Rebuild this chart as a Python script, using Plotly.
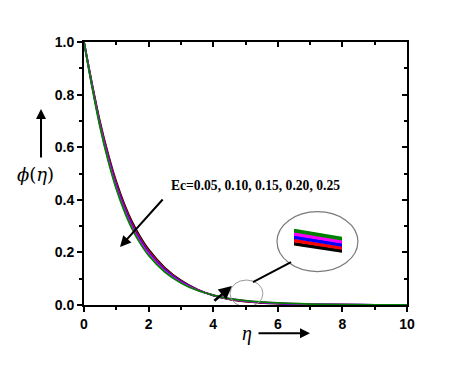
import plotly.graph_objects as go

# ---- data ----
eta = [0, 0.25, 0.5, 0.75, 1.0, 1.25, 1.5, 1.75, 2.0, 2.5, 3.0, 3.5, 4.0, 4.5, 5.0, 6.0, 7.0, 8.0, 9.0, 10.0]
ec_labels = ["0.05", "0.10", "0.15", "0.20", "0.25"]
phi_ec005 = [1.0, 0.841, 0.695, 0.573, 0.469, 0.384, 0.3136, 0.2576, 0.2114, 0.1424, 0.094, 0.060, 0.0364, 0.0214, 0.0132, 0.0051, 0.0021, 0.0009, 0.0004, 0.0002]
phi_ec010 = [1.0, 0.838, 0.690, 0.5665, 0.462, 0.377, 0.3068, 0.2513, 0.2057, 0.1382, 0.0915, 0.059, 0.0367, 0.0222, 0.0141, 0.0058, 0.0025, 0.0011, 0.0005, 0.0002]
phi_ec015 = [1.0, 0.835, 0.685, 0.560, 0.455, 0.370, 0.300, 0.245, 0.200, 0.134, 0.089, 0.058, 0.037, 0.023, 0.015, 0.0065, 0.0029, 0.0013, 0.0006, 0.0002]
phi_ec020 = [1.0, 0.832, 0.680, 0.5535, 0.448, 0.363, 0.2932, 0.2387, 0.1943, 0.1298, 0.0865, 0.057, 0.0373, 0.0238, 0.0159, 0.0072, 0.0033, 0.0015, 0.0007, 0.0002]
phi_ec025 = [1.0, 0.829, 0.675, 0.547, 0.441, 0.356, 0.2864, 0.2324, 0.1886, 0.1256, 0.084, 0.056, 0.0376, 0.0246, 0.0168, 0.0079, 0.0037, 0.0017, 0.0008, 0.0002]
series = [phi_ec005, phi_ec010, phi_ec015, phi_ec020, phi_ec025]
colors = ["#000000", "#FF0000", "#0000FF", "#FF00FF", "#008000"]

x_ticks = [0, 2, 4, 6, 8, 10]
y_ticks = [0.0, 0.2, 0.4, 0.6, 0.8, 1.0]

# inset (magnified view of the tail)
inset_xrange = [5.0, 5.25]
inset_yrange = [0.008715, 0.019165]

fig = go.Figure()

for ys, c, lab in zip(series, colors, ec_labels):
    fig.add_trace(go.Scatter(x=eta, y=ys, mode="lines", name="Ec=" + lab,
                             line=dict(color=c, width=1.8, shape="spline", smoothing=0.8),
                             showlegend=False, xaxis="x", yaxis="y"))

# dummy trace for mirrored (top/right) axes
fig.add_trace(go.Scatter(x=[], y=[], xaxis="x2", yaxis="y2", showlegend=False))

# inset traces
for ys, c in zip(series, colors):
    fig.add_trace(go.Scatter(x=eta, y=ys, mode="lines", line=dict(color=c, width=3.6),
                             showlegend=False, xaxis="x3", yaxis="y3", hoverinfo="skip"))

tickfont = dict(family="Liberation Sans, Arial", size=14, color="black", weight="bold")

fig.update_layout(
    width=474, height=366,
    margin=dict(l=76, r=75, t=34, b=69),
    paper_bgcolor="white", plot_bgcolor="rgba(0,0,0,0)",
    xaxis=dict(range=[0, 10], tickvals=x_ticks, ticktext=[str(v) for v in x_ticks],
               ticks="outside", ticklen=5, tickwidth=1.5, tickcolor="black",
               minor=dict(dtick=1, ticks="outside", ticklen=3, tickwidth=1.5, tickcolor="black"),
               showline=True, linewidth=2, linecolor="black", showgrid=False, zeroline=False,
               tickfont=tickfont, domain=[0, 1]),
    yaxis=dict(range=[0, 1], tickvals=y_ticks, ticktext=["%.1f" % v for v in y_ticks],
               ticks="outside", ticklen=5, tickwidth=1.5, tickcolor="black",
               minor=dict(dtick=0.1, ticks="outside", ticklen=3, tickwidth=1.5, tickcolor="black"),
               showline=True, linewidth=2, linecolor="black", showgrid=False, zeroline=False,
               tickfont=tickfont, domain=[0, 1]),
    xaxis2=dict(range=[0, 10], overlaying="x", side="top", anchor="y", dtick=2,
                ticks="inside", ticklen=5, tickwidth=1.5, tickcolor="black",
                minor=dict(dtick=1, ticks="inside", ticklen=3, tickwidth=1.5, tickcolor="black"),
                showline=True, linewidth=2, linecolor="black", showgrid=False, zeroline=False,
                showticklabels=False),
    yaxis2=dict(range=[0, 1], overlaying="y", side="right", anchor="x", dtick=0.2,
                ticks="inside", ticklen=5, tickwidth=1.5, tickcolor="black",
                minor=dict(dtick=0.1, ticks="inside", ticklen=3, tickwidth=1.5, tickcolor="black"),
                showline=True, linewidth=2, linecolor="black", showgrid=False, zeroline=False,
                showticklabels=False),
    xaxis3=dict(domain=[0.6502, 0.7988], range=inset_xrange, anchor="y3", visible=False),
    yaxis3=dict(domain=[0.1711, 0.3156], range=inset_yrange, anchor="x3", visible=False),
)

# shapes: magnifier ellipses and connector
fig.add_shape(type="circle", xref="x", yref="y", x0=4.52, x1=5.54, y0=-0.0076, y1=0.095,
              line=dict(color="#9a9a9a", width=1))
fig.add_shape(type="circle", xref="x", yref="y", x0=5.975, x1=8.48, y0=0.127, y1=0.355,
              line=dict(color="#7a7a7a", width=1.2))
fig.add_shape(type="line", xref="x", yref="y", x0=5.23, y0=0.087, x1=6.41, y1=0.163,
              line=dict(color="black", width=2))

# annotations
fig.add_annotation(x=2.64, y=0.456, xref="x", yref="y", xanchor="left", yanchor="middle",
                   text="<b>Ec=0.05, 0.10, 0.15, 0.20, 0.25</b>", showarrow=False,
                   font=dict(family="Liberation Serif, Times New Roman", size=13.6, color="black"))
fig.add_annotation(x=1.115, y=0.2205, ax=2.477, ay=0.407, xref="x", yref="y", axref="x", ayref="y",
                   text="", showarrow=True, arrowhead=2, arrowsize=1.1, arrowwidth=2, arrowcolor="black")
fig.add_annotation(x=4.58, y=0.072, ax=3.99, ay=0.011, xref="x", yref="y", axref="x", ayref="y",
                   text="", showarrow=True, arrowhead=2, arrowsize=1.0, arrowwidth=2.6, arrowcolor="black")

# axis titles with arrows
fig.add_annotation(x=-0.1517, y=0.4943, xref="paper", yref="paper", showarrow=False,
                   text="<i>\u03d5</i>(<i>η</i>)", xanchor="center", yanchor="middle",
                   font=dict(family="DejaVu Serif, Liberation Serif", size=18, color="black"))
fig.add_annotation(x=-0.1331, y=0.745, xref="paper", yref="paper", ax=0, ay=50,
                   text="", showarrow=True, arrowhead=2, arrowsize=1.0, arrowwidth=2, arrowcolor="black")
fig.add_annotation(x=0.5037, y=-0.1076, xref="paper", yref="paper", showarrow=False,
                   text="<i>η</i>", xanchor="center", yanchor="middle",
                   font=dict(family="Liberation Serif, Times New Roman", size=20, color="black"))
fig.add_annotation(x=0.6997, y=-0.1076, xref="paper", yref="paper", ax=-53, ay=0,
                   text="", showarrow=True, arrowhead=2, arrowsize=1.0, arrowwidth=2, arrowcolor="black")

fig.write_html("out.html")
